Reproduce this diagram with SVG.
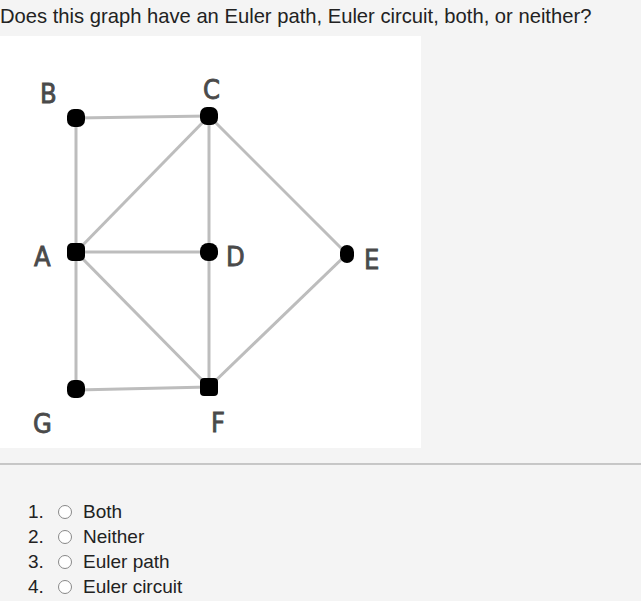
<svg xmlns="http://www.w3.org/2000/svg" width="641" height="601" viewBox="0 0 641 601">
<style>
.e{stroke:#bdbdbd;stroke-width:3;fill:none}
.n{fill:#000}
.l{font-family:"DejaVu Sans Condensed","DejaVu Sans",sans-serif;font-stretch:condensed;font-size:27px;fill:#4a4a4a;stroke:#4a4a4a;stroke-width:0.8}
.t{font-family:"Liberation Sans",Arial,sans-serif;font-size:19px;fill:#222}
.r{fill:#fff;stroke:#888;stroke-width:1}
</style>
<rect width="641" height="601" fill="#f4f4f4"/>
<rect x="0" y="36" width="421" height="412" fill="#fff"/>
<line x1="0" y1="464" x2="641" y2="464" stroke="#999" stroke-width="1"/>
<text class="t" x="0" y="23" style="font-size:20.2px">Does this graph have an Euler path, Euler circuit, both, or neither?</text>
<g id="edges">
<line class="e" x1="76" y1="118" x2="209" y2="116"/>
<line class="e" x1="76" y1="118" x2="76" y2="390"/>
<line class="e" x1="209" y1="116" x2="209" y2="387"/>
<line class="e" x1="209" y1="116" x2="76" y2="252"/>
<line class="e" x1="209" y1="116" x2="347" y2="254"/>
<line class="e" x1="76" y1="252" x2="209" y2="252"/>
<line class="e" x1="76" y1="252" x2="209" y2="387"/>
<line class="e" x1="347" y1="254" x2="209" y2="387"/>
<line class="e" x1="76" y1="390" x2="209" y2="387"/>
</g>
<g id="B"><rect class="n" x="67" y="109" width="18" height="18" rx="7"/><text class="l" x="40" y="103">B</text></g>
<g id="C"><rect class="n" x="200" y="107" width="18" height="18" rx="7"/><text class="l" x="203" y="99">C</text></g>
<g id="A"><rect class="n" x="67" y="243" width="18" height="18" rx="5"/><text class="l" x="34" y="266">A</text></g>
<g id="D"><rect class="n" x="200" y="243" width="18" height="18" rx="8"/><text class="l" x="226" y="266">D</text></g>
<g id="E"><rect class="n" x="340" y="245" width="14" height="18" rx="7"/><text class="l" x="364" y="269">E</text></g>
<g id="G"><rect class="n" x="67" y="380" width="18" height="18" rx="7"/><text class="l" x="33" y="433">G</text></g>
<g id="F"><rect class="n" x="200" y="378" width="18" height="18" rx="4"/><text class="l" x="211" y="432">F</text></g>
<g id="options">
<text class="t" x="28" y="518">1.</text><circle class="r" cx="65" cy="512" r="6.5"/><text class="t" x="83" y="518">Both</text>
<text class="t" x="28" y="543">2.</text><circle class="r" cx="65" cy="537" r="6.5"/><text class="t" x="83" y="543">Neither</text>
<text class="t" x="28" y="568">3.</text><circle class="r" cx="65" cy="562" r="6.5"/><text class="t" x="83" y="568">Euler path</text>
<text class="t" x="28" y="593">4.</text><circle class="r" cx="65" cy="587" r="6.5"/><text class="t" x="83" y="593">Euler circuit</text>
</g>
</svg>
